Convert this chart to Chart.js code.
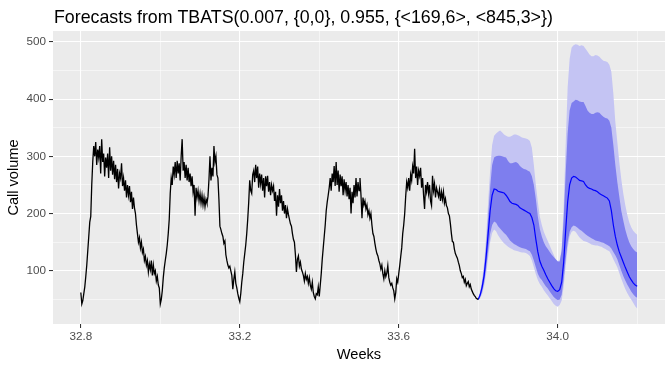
<!DOCTYPE html>
<html>
<head>
<meta charset="utf-8">
<script src="https://cdn.jsdelivr.net/npm/chart.js@4.4.1/dist/chart.umd.min.js"></script>
<style>
  html, body { margin: 0; padding: 0; background: #ffffff; }
  canvas { display: block; }
</style>
</head>
<body>
<canvas id="c" width="672" height="369"></canvas>
<script>
// ---------------- DATA ----------------
const chartTitle = "Forecasts from TBATS(0.007, {0,0}, 0.955, {<169,6>, <845,3>})";
const xTitle = "Weeks";
const yTitle = "Call volume";

// time index (weeks)
const histStart = 32.8;
const histStep = 0.0025;
const fcStart = 33.8;
const fcStep = 0.005;

// observed call volume (last five working days)
const histValues = [
  62, 42, 48, 60, 72, 90, 110, 135, 160, 185,
  195, 250, 290, 318, 300, 325, 285, 312, 298, 318,
  270, 330, 290, 305, 265, 298, 280, 305, 262, 316,
  275, 300, 268, 292, 260, 285, 255, 278, 244, 270,
  262, 288, 248, 262, 240, 258, 228, 250, 232, 248,
  220, 238, 208, 228, 210, 200, 180, 165, 150, 158,
  140, 150, 132, 138, 118, 125, 110, 118, 98, 112,
  102, 118, 92, 110, 95, 100, 82, 90, 75, 70,

  42, 50, 65, 88, 105, 118, 130, 145, 165, 190,
  235, 262, 250, 282, 268, 290, 262, 292, 270, 288,
  258, 300, 330, 275, 290, 262, 285, 258, 280, 255,
  270, 248, 265, 238, 250, 196, 245, 228, 240, 222,
  235, 218, 232, 215, 228, 212, 225, 218, 230, 260,
  300, 258, 280, 265, 318, 290, 300, 268, 262, 225,
  178, 172, 165, 160, 148, 152, 128, 118, 110, 105,
  108, 100, 92, 68, 85, 98, 78, 70, 60, 52,

  46, 60, 80, 95, 115, 130, 145, 165, 190, 220,
  258, 240, 235, 268, 275, 255, 285, 262, 282, 245,
  270, 252, 268, 240, 262, 228, 265, 248, 266, 238,
  255, 232, 250, 240, 248, 222, 238, 196, 232, 212,
  243, 218, 232, 205, 222, 200, 215, 192, 208, 198,
  190, 182, 178, 165, 155, 150, 128, 98, 120, 126,
  108, 115, 103, 98, 92, 82, 95, 85, 90, 78,
  88, 75, 68, 80, 62, 55, 51, 60, 58, 72,

  55, 75, 95, 120, 140, 160, 180, 205, 220, 232,
  245, 262, 240, 270, 255, 283, 248, 290, 250, 275,
  238, 268, 248, 265, 232, 260, 240, 255, 230, 250,
  225, 245, 200, 238, 218, 250, 228, 262, 230, 255,
  240, 262, 232, 192, 228, 215, 222, 208, 215, 198,
  205, 192, 200, 180, 165, 160, 148, 138, 130, 126,
  118, 112, 103, 110, 95, 86, 100, 90, 96, 109,
  88, 80, 75, 78, 70, 65, 51, 62, 86, 80,

  95, 109, 125, 140, 165, 180, 200, 230, 255, 245,
  262, 240, 268, 258, 282, 270, 313, 262, 282, 250,
  275, 266, 280, 245, 262, 232, 208, 250, 238, 255,
  235, 250, 222, 214, 266, 240, 252, 228, 245, 238,
  230, 242, 222, 238, 225, 238, 218, 226, 214, 210,
  200, 196, 182, 165, 151, 150, 138, 130, 126, 122,
  115, 109, 100, 95, 88, 90, 80, 85, 74, 78,
  81, 72, 76, 68, 64, 60, 57, 55, 52, 51,
  50
];

// point forecast and prediction intervals
const fcMean = [
  50, 58, 72, 92, 125, 165, 205, 232, 243, 242,
  239, 238, 237, 236, 232, 227, 221, 218, 217, 216,
  214, 210, 208, 206, 204, 202, 200, 193, 180, 155,
  133, 117, 108, 101, 93, 86, 80, 74, 69, 65,
  64, 67, 80, 115, 170, 220, 250, 262, 265, 264,
  261, 258, 257, 256, 250, 246, 244, 243, 241, 240,
  238, 235, 233, 231, 229, 227, 222, 205, 180, 160,
  145, 133, 124, 115, 106, 98, 90, 84, 79, 75,
  73
];
const fcHi80 = [
  51, 62, 80, 105, 145, 195, 245, 285, 298, 300,
  301, 301, 300, 299, 298, 292, 288, 288, 289, 290,
  288, 283, 280, 278, 277, 275, 273, 265, 250, 225,
  195, 173, 160, 150, 143, 138, 133, 128, 124, 120,
  116, 116, 135, 190, 270, 340, 380, 393, 396, 399,
  398, 396, 395, 395, 388, 380, 376, 374, 374, 376,
  377, 376, 372, 369, 367, 366, 362, 350, 320, 285,
  255, 230, 205, 188, 172, 160, 150, 143, 138, 134,
  132
];
const fcLo80 = [
  49, 54, 64, 80, 105, 135, 165, 180, 186, 184,
  178, 174, 170, 166, 163, 158, 153, 150, 147, 145,
  143, 141, 140, 139, 138, 136, 134, 128, 118, 106,
  95, 88, 84, 78, 73, 69, 64, 59, 54, 51,
  49, 50, 58, 85, 120, 150, 168, 176, 179, 178,
  175, 172, 170, 167, 164, 161, 159, 157, 155, 153,
  152, 151, 150, 149, 147, 145, 143, 139, 133, 127,
  120, 110, 100, 91, 83, 76, 70, 64, 59, 55,
  53
];
const fcHi95 = [
  52, 64, 85, 115, 160, 220, 275, 320, 336, 340,
  343, 345, 342, 338, 336, 334, 334, 336, 338, 338,
  337, 335, 333, 332, 331, 330, 327, 315, 285, 250,
  220, 195, 180, 168, 160, 152, 144, 136, 128, 120,
  117, 118, 140, 210, 320, 420, 470, 490, 494, 496,
  495, 493, 494, 493, 488, 483, 478, 475, 475, 477,
  476, 474, 470, 467, 466, 465, 460, 448, 410, 360,
  325, 290, 260, 235, 215, 198, 185, 176, 170, 166,
  163
];
const fcLo95 = [
  48, 52, 60, 74, 95, 123, 150, 166, 172, 169,
  162, 157, 152, 148, 145, 142, 140, 138, 136, 135,
  134, 133, 132, 132, 131, 129, 126, 118, 106, 94,
  84, 77, 72, 66, 61, 57, 52, 47, 42, 39,
  37, 40, 48, 72, 108, 140, 160, 168, 170, 168,
  163, 158, 155, 152, 151, 150, 148, 146, 145, 144,
  144, 143, 142, 140, 138, 136, 134, 128, 120, 113,
  106, 96, 86, 77, 68, 61, 55, 50, 44, 38,
  34
];

// axis breaks
const xMajor = [32.8, 33.2, 33.6, 34.0];
const xMinor = [33.0, 33.4, 33.8, 34.2];
const yMajor = [100, 200, 300, 400, 500];
const yMinor = [50, 150, 250, 350, 450];
const xLimits = [32.73, 34.27];
const yLimits = [7, 519];

// ---------------- BUILD ----------------
const toPoints = (start, step, vals) => vals.map((v, i) => ({ x: +(start + i * step).toFixed(5), y: v }));

const histPts = toPoints(histStart, histStep, histValues);
const meanPts = toPoints(fcStart, fcStep, fcMean);
const hi80Pts = toPoints(fcStart, fcStep, fcHi80);
const lo80Pts = toPoints(fcStart, fcStep, fcLo80);
const hi95Pts = toPoints(fcStart, fcStep, fcHi95);
const lo95Pts = toPoints(fcStart, fcStep, fcLo95);

const near = (a, b) => Math.abs(a - b) < 1e-6;
const isIn = (arr, v) => arr.some(a => near(a, v));

const panelBg = {
  id: 'panelBg',
  beforeDraw(chart) {
    const { ctx, chartArea: a } = chart;
    ctx.save();
    ctx.fillStyle = '#EBEBEB';
    ctx.fillRect(a.left, a.top, a.right - a.left, a.bottom - a.top);
    ctx.restore();
  }
};

const texts = {
  id: 'texts',
  afterDraw(chart) {
    const { ctx, chartArea: a } = chart;
    ctx.save();
    ctx.fillStyle = '#000000';
    ctx.font = '17.8px "Liberation Sans", Arial, sans-serif';
    ctx.textAlign = 'left';
    ctx.textBaseline = 'alphabetic';
    ctx.fillText(chartTitle, a.left + 1, 23);

    ctx.font = '14.6px "Liberation Sans", Arial, sans-serif';
    ctx.textAlign = 'center';
    ctx.fillText(xTitle, (a.left + a.right) / 2, 359);

    ctx.translate(18, (a.top + a.bottom) / 2);
    ctx.rotate(-Math.PI / 2);
    ctx.fillText(yTitle, 0, 0);
    ctx.restore();
  }
};

const gridLW = (major) => ctx => {
  const v = ctx.tick && ctx.tick.value;
  return isIn(major, v) ? 1.07 : 0.53;
};
const tickCol = (major) => ctx => {
  const v = ctx.tick && ctx.tick.value;
  return isIn(major, v) ? '#333333' : 'rgba(0,0,0,0)';
};

new Chart(document.getElementById('c'), {
  type: 'line',
  data: {
    datasets: [
      { label: 'history', data: histPts, borderColor: '#000000', borderWidth: 1.3, pointRadius: 0, fill: false, tension: 0 },
      { label: 'forecast', data: meanPts, borderColor: '#0000FF', borderWidth: 1.2, pointRadius: 0, fill: false, tension: 0 },
      { label: 'hi80', data: hi80Pts, borderWidth: 0, borderColor: 'rgba(0,0,0,0)', pointRadius: 0, fill: 3, backgroundColor: '#7E7EEE', tension: 0 },
      { label: 'lo80', data: lo80Pts, borderWidth: 0, borderColor: 'rgba(0,0,0,0)', pointRadius: 0, fill: false, tension: 0 },
      { label: 'hi95', data: hi95Pts, borderWidth: 0, borderColor: 'rgba(0,0,0,0)', pointRadius: 0, fill: 5, backgroundColor: '#C4C4F3', tension: 0 },
      { label: 'lo95', data: lo95Pts, borderWidth: 0, borderColor: 'rgba(0,0,0,0)', pointRadius: 0, fill: false, tension: 0 }
    ]
  },
  options: {
    responsive: false,
    animation: false,
    devicePixelRatio: 1,
    layout: { padding: { left: 0, top: 31, right: 7, bottom: 0 } },
    plugins: { legend: { display: false }, tooltip: { enabled: false }, title: { display: false } },
    scales: {
      x: {
        type: 'linear',
        min: xLimits[0], max: xLimits[1],
        afterBuildTicks: s => { s.ticks = xMajor.concat(xMinor).sort((a, b) => a - b).map(v => ({ value: v })); },
        afterFit: s => { s.height = 45; },
        ticks: {
          autoSkip: false, maxRotation: 0, padding: 2,
          color: '#4D4D4D',
          font: { family: '"Liberation Sans", Arial, sans-serif', size: 11.7 },
          callback: v => isIn(xMajor, v) ? v.toFixed(1) : ''
        },
        grid: { color: '#FFFFFF', lineWidth: gridLW(xMajor), tickColor: tickCol(xMajor), tickLength: 4, drawTicks: true },
        border: { display: false }
      },
      y: {
        type: 'linear',
        min: yLimits[0], max: yLimits[1],
        afterBuildTicks: s => { s.ticks = yMajor.concat(yMinor).sort((a, b) => a - b).map(v => ({ value: v })); },
        afterFit: s => { s.width = 53; },
        ticks: {
          autoSkip: false, padding: 3,
          color: '#4D4D4D',
          font: { family: '"Liberation Sans", Arial, sans-serif', size: 11.7 },
          callback: v => isIn(yMajor, v) ? String(v) : ''
        },
        grid: { color: '#FFFFFF', lineWidth: gridLW(yMajor), tickColor: tickCol(yMajor), tickLength: 4, drawTicks: true },
        border: { display: false }
      }
    }
  },
  plugins: [panelBg, texts]
});
</script>
</body>
</html>
